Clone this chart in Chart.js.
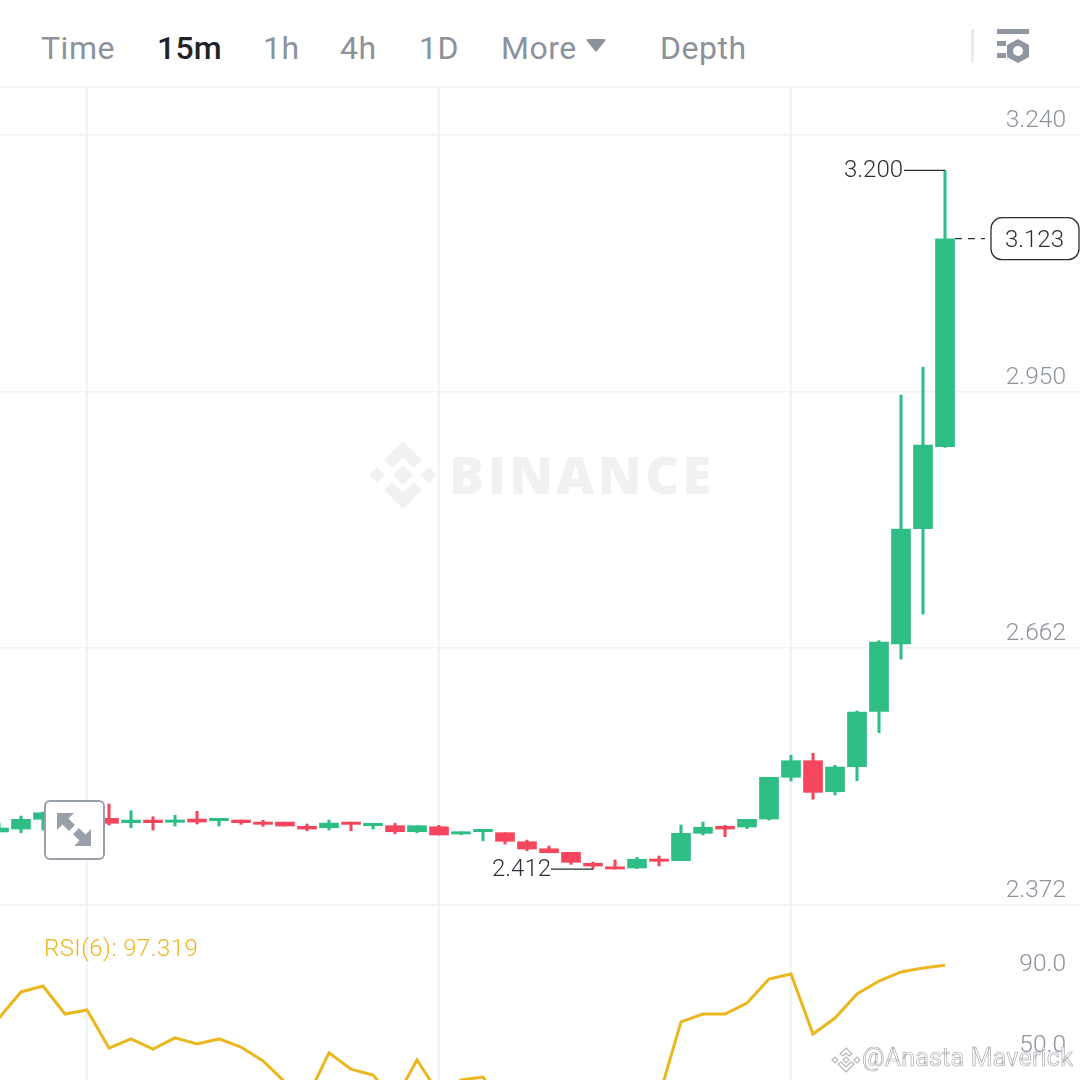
<!DOCTYPE html>
<html>
<head>
<meta charset="utf-8">
<title>BINANCE 15m</title>
<script src="https://cdn.jsdelivr.net/npm/chart.js@4"></script>
<style>
html, body { margin: 0; padding: 0; background: #fff; }
#page { position: relative; width: 1080px; height: 1080px; overflow: hidden; font-family: Roboto, sans-serif; }
#myChart { position: absolute; left: 0; top: 0; z-index: 1; }
#header { position: absolute; left: 0; top: 0; width: 1080px; height: 88px; background: #fff; border-bottom: 2px solid #f5f6f7; box-sizing: border-box; z-index: 2; }
#header span { position: absolute; top: 29px; font-size: 32px; line-height: 38px; color: #8b929c; letter-spacing: 0.5px; white-space: nowrap; }
#header span.on { color: #1e2329; font-weight: 500; letter-spacing: 0.2px; }
#sep { position: absolute; left: 971px; top: 29px; width: 3px; height: 33px; background: #ebebeb; }
#logo { position: absolute; left: 368px; top: 440px; z-index: 0; }
#brand { position: absolute; left: 449px; top: 442px; font-family: "Open Sans", sans-serif; font-weight: 800; font-size: 52px; line-height: 64px; letter-spacing: 3.7px; color: #f0f1f2; z-index: 0; }
#expand { position: absolute; left: 44px; top: 800px; width: 61px; height: 60px; box-sizing: border-box; background: #fff; border: 2px solid #9aa0aa; border-radius: 6px; z-index: 2; }
#sign { position: absolute; left: 862px; top: 1043px; font-size: 25px; line-height: 30px; color: #fff; -webkit-text-stroke: 0.7px #a9acb1; letter-spacing: 0.2px; white-space: nowrap; z-index: 3; }
#signLogo { position: absolute; left: 831px; top: 1047px; z-index: 3; }
</style>
</head>
<body>
<div id="page">
  <svg id="logo" width="70" height="70" viewBox="0 0 70 70" fill="#f0f1f2">
    <path d="M35 1 L54 20 L46 28 L35 17 L24 28 L16 20 Z"/>
    <path d="M35 69 L54 50 L46 42 L35 53 L24 42 L16 50 Z"/>
    <path d="M35 25 L45 35 L35 45 L25 35 Z"/>
    <path d="M9 27 L17 35 L9 43 L1 35 Z"/>
    <path d="M61 27 L69 35 L61 43 L53 35 Z"/>
  </svg>
  <div id="brand">BINANCE</div>
  <canvas id="myChart" width="1080" height="1080"></canvas>
  <div id="header">
    <span style="left:41px">Time</span>
    <span class="on" style="left:157px">15m</span>
    <span style="left:263px">1h</span>
    <span style="left:340px">4h</span>
    <span style="left:419px">1D</span>
    <span style="left:501px">More</span>
    <span style="left:660px">Depth</span>
    <svg style="position:absolute;left:586px;top:39px" width="20" height="13" viewBox="0 0 20 13"><path d="M2 0 H18 Q20 0 19 2 L11 12 Q10 13 9 12 L1 2 Q0 0 2 0 Z" fill="#8b929c"/></svg>
    <div id="sep"></div>
    <svg style="position:absolute;left:996px;top:29px" width="34" height="34" viewBox="0 0 34 34" fill="#8f96a1">
      <rect x="1" y="0" width="32" height="5"/>
      <rect x="1" y="12" width="9" height="5"/>
      <rect x="1" y="24" width="9" height="5"/>
      <path fill-rule="evenodd" d="M22 10 L33 16 V28 L22 34 L11 28 V16 Z M22 17 A5 5 0 1 0 22 27 A5 5 0 1 0 22 17 Z"/>
    </svg>
  </div>
  <div id="expand">
    <svg width="57" height="56" viewBox="0 0 57 56" fill="#9aa0aa">
      <path d="M11 11 H28 L22.5 16.5 L29 23 L23 29 L16.5 22.5 L11 28 Z"/>
      <path d="M45 44 H28 L33.5 38.5 L27 32 L33 26 L39.5 32.5 L45 27 Z"/>
    </svg>
  </div>
  <svg id="signLogo" width="30" height="26" viewBox="0 0 30 26" fill="none" stroke="#b4b7bb" stroke-width="1.2">
    <path d="M15 1 L21 7 L18 9 L15 6 L12 9 L9 7 Z"/>
    <path d="M15 10 L18 13 L15 16 L12 13 Z"/>
    <path d="M4 10 L7 13 L4 16 L1 13 Z"/>
    <path d="M26 10 L29 13 L26 16 L23 13 Z"/>
    <path d="M15 25 L23 17 L20 15 L15 20 L10 15 L7 17 Z"/>
  </svg>
  <div id="sign">@Anasta Maverick</div>
</div>
<script>
// 15m candles
var opens = [2.4538,2.4571,2.4681,2.4755,2.4707,2.4692,2.4643,2.4673,2.4647,2.4684,2.4665,2.4673,2.4650,2.4650,2.4602,2.4586,2.4650,2.4609,2.4609,2.4541,2.4597,2.4515,2.4541,2.4530,2.4428,2.4349,2.4309,2.4185,2.4146,2.4132,2.4233,2.4214,2.4523,2.4602,2.4594,2.4684,2.5155,2.5342,2.4992,2.5274,2.5899,2.6658,2.7959,2.8884];
var highs = [2.4639,2.4718,2.4763,2.4770,2.4745,2.4853,2.4778,2.4710,2.4726,2.4771,2.4692,2.4673,2.4670,2.4650,2.4628,2.4673,2.4650,2.4636,2.4636,2.4609,2.4613,2.4541,2.4568,2.4530,2.4447,2.4380,2.4309,2.4199,2.4222,2.4252,2.4267,2.4617,2.4650,2.4613,2.4681,2.5155,2.5403,2.5425,2.5290,2.5903,2.6696,2.9467,2.9780,3.200];
var lows = [2.4538,2.4530,2.4560,2.4690,2.4690,2.4617,2.4586,2.4560,2.4605,2.4628,2.4605,2.4624,2.4602,2.4605,2.4552,2.4560,2.4552,2.4571,2.4518,2.4530,2.4504,2.4507,2.4440,2.4402,2.4327,2.4304,2.4173,2.412,2.4120,2.4125,2.4154,2.4214,2.4504,2.4485,2.4575,2.4673,2.5113,2.4907,2.4955,2.5116,2.5658,2.6486,2.6997,2.8875];
var closes = [2.4583,2.4681,2.4755,2.4707,2.4729,2.4636,2.4673,2.4643,2.4673,2.4650,2.4692,2.4643,2.4624,2.4605,2.4571,2.4639,2.4624,2.4636,2.4541,2.4609,2.4504,2.4541,2.4568,2.4433,2.4346,2.4304,2.4196,2.4154,2.4120,2.4230,2.4207,2.4523,2.4591,2.4571,2.4681,2.5155,2.5342,2.4985,2.5271,2.5891,2.6681,2.7956,2.8903,3.123];
var rsi = [71.2,84.1,87.0,73.2,75.2,56.4,60.9,55.9,61.4,58.4,60.9,56.9,50.0,39.6,31.7,54.0,46.0,43.1,30.7,50.5,33.7,40.6,42.1,25.8,22.0,20.0,18.0,16.0,17.0,20.0,32.2,69.3,73.2,73.2,78.6,90.5,93.0,63.3,71.2,83.1,89.5,94.0,95.9,97.319];

var priceTicks = [3.240, 2.950, 2.662, 2.372];
var rsiTicks = [90, 50];
var gridSlots = [4, 20, 36];

var highMark = { slot: 43, value: 3.200 };
var lowMark = { slot: 27, value: 2.412 };
var lastPrice = 3.123;
var rsiLabel = 'RSI(6): 97.319';

var GREEN = '#2ebd85';
var RED = '#f6465d';
var YELLOW = '#eab71f';

// picture scale: 3.240 sits at y=135 and 2.372 at y=904.5, 90 at y=980 and 50 at y=1061
var pricePerPx = (priceTicks[0] - priceTicks[3]) / 769.5;
var rsiPerPx = (rsiTicks[0] - rsiTicks[1]) / 81;

var colors = closes.map(function(c, i) { return c >= opens[i] ? GREEN : RED; });

// axes sit inside the plot, so they take no room of their own
function noRoom(axis) {
    if (axis.isHorizontal()) axis.height = 0; else axis.width = 0;
    axis.paddingLeft = axis.paddingRight = axis.paddingTop = axis.paddingBottom = 0;
}

var marks = {
    id: 'marks',
    afterDraw: function(chart) {
        var c = chart.ctx;
        var x = chart.scales.x;
        var y = chart.scales.y;
        c.save();
        c.font = '300 24px Roboto';
        c.textBaseline = 'middle';
        c.lineWidth = 1.3;
        c.strokeStyle = '#2b2f36';
        c.fillStyle = '#2b2f36';

        // highest and lowest price
        var hx = x.getPixelForValue(highMark.slot);
        var hy = y.getPixelForValue(highMark.value);
        c.textAlign = 'right';
        c.fillText(highMark.value.toFixed(3), hx - 42, hy + 1);
        c.beginPath(); c.moveTo(hx - 41, hy); c.lineTo(hx, hy); c.stroke();

        var lx = x.getPixelForValue(lowMark.slot);
        var ly = y.getPixelForValue(lowMark.value);
        c.fillText(lowMark.value.toFixed(3), lx - 42, ly + 1);
        c.beginPath(); c.moveTo(lx - 42, ly); c.lineTo(lx, ly); c.stroke();

        // last price tag
        var py = y.getPixelForValue(lastPrice);
        c.setLineDash([7, 6]);
        c.beginPath(); c.moveTo(955, py); c.lineTo(985, py); c.stroke();
        c.setLineDash([]);
        c.beginPath();
        c.roundRect(991, py - 21, 88, 42, 11);
        c.fillStyle = '#fff';
        c.fill();
        c.stroke();
        c.fillStyle = '#2b2f36';
        c.textAlign = 'left';
        c.fillText(lastPrice.toFixed(3), 1005, py + 2);

        // indicator title
        c.fillStyle = YELLOW;
        c.letterSpacing = '0.45px';
        c.fillText(rsiLabel, 44, 950);
        c.restore();
    }
};

var chart = new Chart(document.getElementById('myChart'), {
    type: 'bar',
    data: {
        datasets: [{
            data: lows.map(function(l, i) { return { x: i, y: [l, highs[i]] }; }),
            backgroundColor: colors,
            barThickness: 2.4,
            grouped: false,
            order: 3
        }, {
            data: opens.map(function(o, i) { return { x: i, y: [o, closes[i]] }; }),
            backgroundColor: colors,
            barThickness: 19,
            grouped: false,
            order: 2
        }, {
            type: 'line',
            yAxisID: 'yRsi',
            data: rsi.map(function(v, i) { return { x: i, y: v }; }),
            borderColor: YELLOW,
            borderWidth: 3,
            pointRadius: 0,
            tension: 0,
            order: 1
        }]
    },
    plugins: [marks],
    options: {
        responsive: false,
        devicePixelRatio: 1,
        animation: false,
        layout: { padding: 0 },
        plugins: {
            legend: { display: false },
            tooltip: { enabled: false }
        },
        scales: {
            x: {
                type: 'linear',
                offset: false,
                min: 1 / 22,
                max: 1081 / 22,
                afterFit: noRoom,
                afterBuildTicks: function(axis) {
                    axis.ticks = gridSlots.map(function(v) { return { value: v }; });
                },
                border: { display: false },
                grid: { color: '#ececf5', lineWidth: 1.5, drawTicks: false, offset: false },
                ticks: { display: false }
            },
            y: {
                position: 'right',
                min: priceTicks[0] - 945 * pricePerPx,
                max: priceTicks[0] + 135 * pricePerPx,
                afterFit: noRoom,
                afterBuildTicks: function(axis) {
                    axis.ticks = priceTicks.map(function(v) { return { value: v }; });
                },
                border: { display: false },
                grid: { color: '#f0f1f2', lineWidth: 1.5, drawTicks: false },
                ticks: {
                    mirror: true,
                    padding: -14,
                    labelOffset: -14,
                    color: '#8c939d',
                    font: { family: 'Roboto', size: 24.5, weight: '300' },
                    autoSkip: false,
                    callback: function(v) { return v.toFixed(3); }
                }
            },
            yRsi: {
                position: 'right',
                min: rsiTicks[0] - 100 * rsiPerPx,
                max: rsiTicks[0] + 980 * rsiPerPx,
                afterFit: noRoom,
                afterBuildTicks: function(axis) {
                    axis.ticks = rsiTicks.map(function(v) { return { value: v }; });
                },
                border: { display: false },
                grid: { display: false, drawTicks: false },
                ticks: {
                    mirror: true,
                    padding: -14,
                    labelOffset: -15,
                    color: '#8c939d',
                    font: { family: 'Roboto', size: 24.5, weight: '300' },
                    autoSkip: false,
                    callback: function(v) { return v.toFixed(1); }
                }
            }
        }
    }
});
</script>
</body>
</html>
